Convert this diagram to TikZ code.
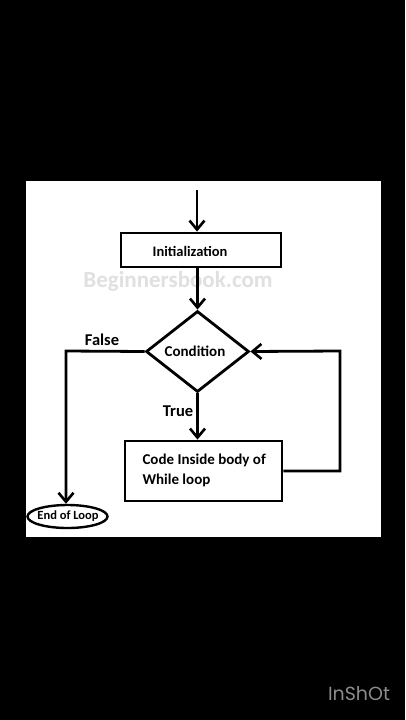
\documentclass[tikz,border=0pt]{standalone}
\usepackage{fontspec}
\setmainfont{Carlito}
\newfontfamily\inshotfont{Poppins}
\usetikzlibrary{arrows.meta,shapes.geometric}
\tikzset{
  flowline/.style={line width=2.8pt,-{Straight Barb[length=9pt,width=15pt,line width=2.6pt]}},
  procbox/.style={draw,line width=2.8pt,rectangle,inner sep=0pt},
  decision/.style={draw,line width=2.8pt,diamond,inner sep=0pt,minimum width=103pt,minimum height=81pt},
  terminal/.style={draw,line width=2.4pt,ellipse,inner sep=0pt,minimum width=80pt,minimum height=23pt},
  lbl/.style={font=\bfseries\fontsize{15}{18}\selectfont},
  edgelbl/.style={font=\bfseries\fontsize{16.5}{19}\selectfont}
}
\begin{document}
\begin{tikzpicture}[x=1pt,y=-1pt]
  \useasboundingbox (0,0) rectangle (405,720);
  \fill[black] (0,0) rectangle (405,720);
  \fill[white] (26,181) rectangle (381,537);
  % watermarks
  \node[text=black!12,font=\bfseries\fontsize{23}{26}\selectfont] (wm) at (178,281) {Beginnersbook.com};
  \node[text=black!45,font=\inshotfont\fontsize{19}{22}\selectfont] (ins) at (359,694) {InShOt};
  % nodes
  \coordinate (start) at (197,190);
  \node[procbox,minimum width=160pt,minimum height=34pt] (init) at (201,250) {};
  \node[lbl,font=\bfseries\fontsize{14.5}{17}\selectfont] (inittxt) at (190,251) {Initialization};
  \node[decision] (cond) at (197.5,351.5) {};
  \node[lbl] (condtxt) at (195,351) {Condition};
  \node[procbox,minimum width=157pt,minimum height=60pt] (body) at (203.5,471) {};
  \node[lbl,align=left,anchor=west] (bodytxt) at (139,470) {Code Inside body of\\[2pt]While loop};
  \node[terminal] (end) at (67.5,516.5) {};
  \node[font=\bfseries\fontsize{12.5}{15}\selectfont] (endtxt) at (68,516) {End of Loop};
  \node[edgelbl] (false) at (102,340) {False};
  \node[edgelbl] (true) at (178,411) {True};
  \coordinate (leftc) at (66,351);
  \coordinate (rb) at (340,471);
  \coordinate (rt) at (340,351);
  % connectors
  \begin{scope}[flowline]
    \draw (start) -- (start |- init.north);
    \draw (init.south -| cond.north) -- (cond.north);
    \draw (cond.south) -- (cond.south |- body.north);
    \draw (cond.west) -- (leftc) -- (leftc |- end.north);
    \draw (body.east |- rb) -- (rb) -- (rt) -- (cond.east);
  \end{scope}
\end{tikzpicture}
\end{document}
